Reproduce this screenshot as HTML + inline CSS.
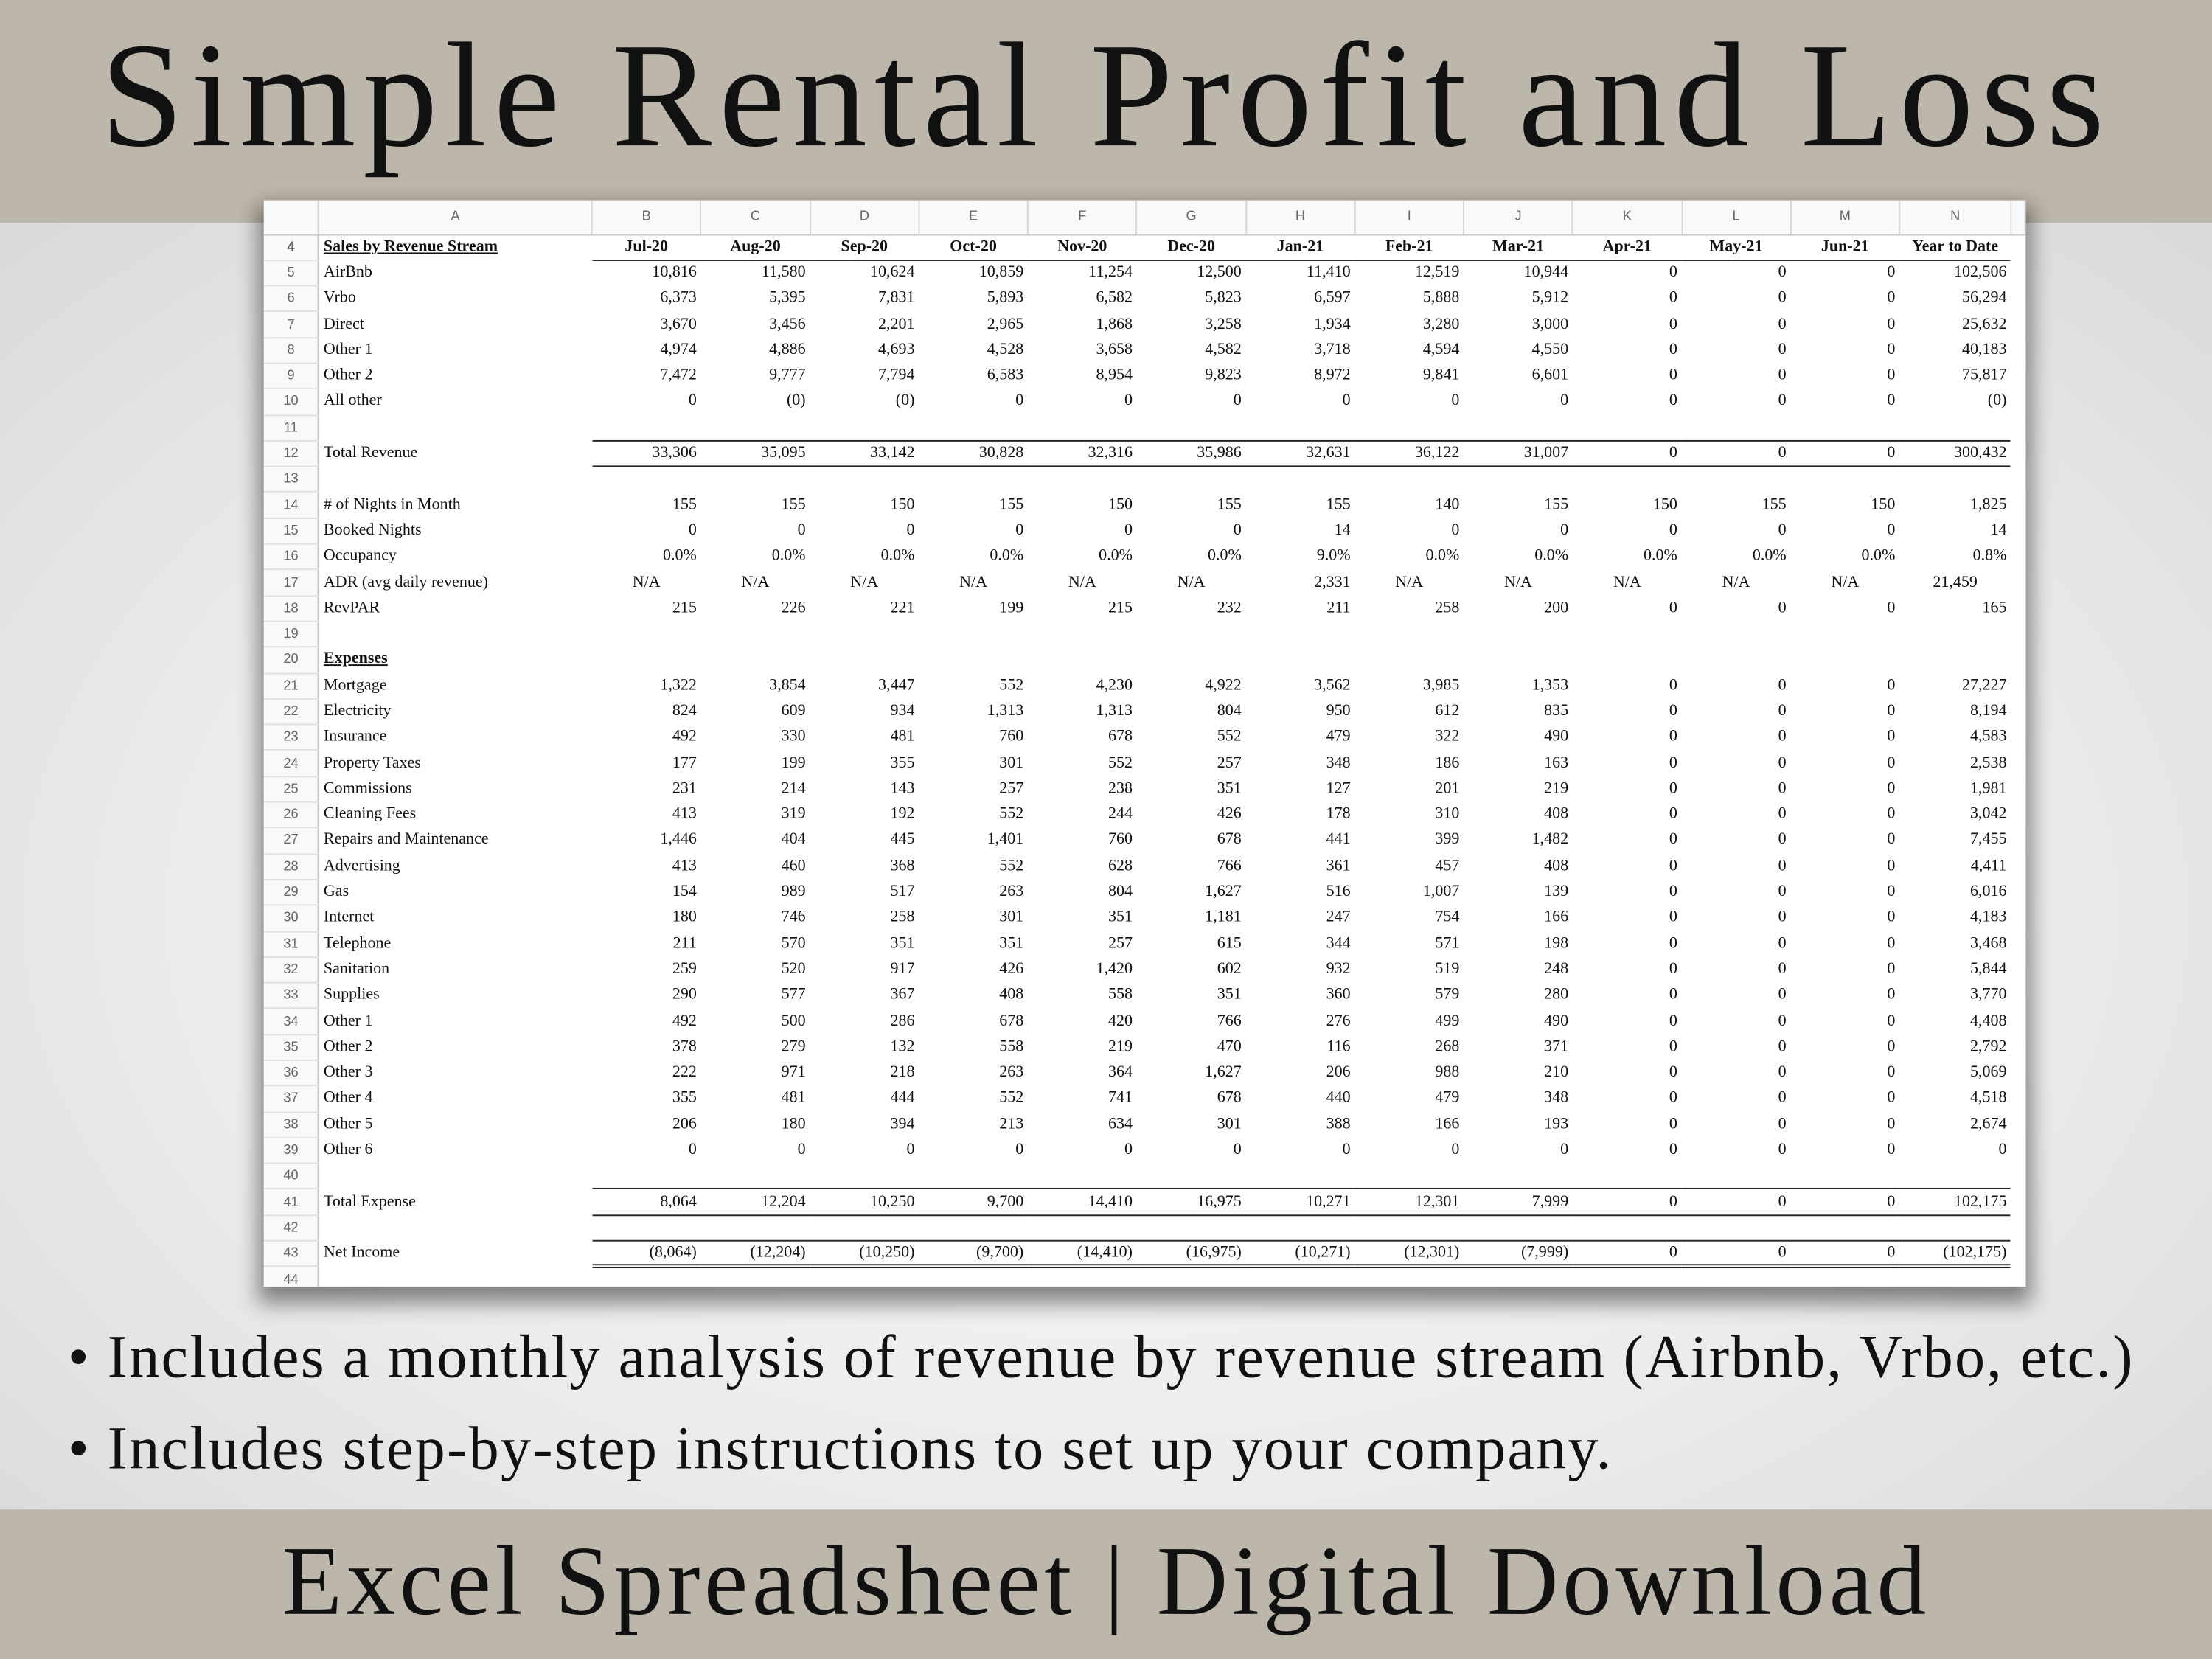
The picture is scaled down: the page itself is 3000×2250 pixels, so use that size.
<!DOCTYPE html>
<html><head><meta charset="utf-8"><style>
html,body{margin:0;padding:0;}
body{width:3000px;height:2250px;overflow:hidden;background:#fff;}
#w{position:absolute;left:0;top:0;width:1568px;height:1176px;transform:scale(1.91327);transform-origin:0 0;
background:radial-gradient(ellipse 70% 60% at 50% 55%,#fafafa 0%,#ebebeb 60%,#d9d9d9 100%);overflow:hidden;font-family:"Liberation Serif",serif;}
.band{position:absolute;left:0;width:1568px;background:#bdb6aa;}
#top{top:0;height:158px;}
#bot{top:1070px;height:106px;}
.title{position:absolute;left:0;width:1568px;text-align:center;color:#111;white-space:nowrap;}
#sheet{position:absolute;left:187px;top:142px;width:1249px;height:770px;background:#fff;box-shadow:0 8px 14px 4px rgba(0,0,0,0.45);overflow:hidden;}
table{border-collapse:collapse;table-layout:fixed;font-size:11.5px;color:#111;}
tr{height:18.3px;}
td{height:18.3px;padding:0 3px;white-space:nowrap;overflow:visible;text-align:right;line-height:13px;box-sizing:border-box;}
td.n{background:#f8f9fa;color:#666;font-family:"Liberation Sans",sans-serif;font-size:9.5px;text-align:center;border-right:1px solid #c8c8c8;border-bottom:1px solid #e0e0e0;}
tr.h{height:24px;}
tr.h td{height:24px;background:#f8f9fa;color:#666;font-family:"Liberation Sans",sans-serif;font-size:9.5px;text-align:center;border-right:1px solid #d6d6d6;border-bottom:1px solid #c8c8c8;}
td.a{text-align:left !important;}
tr.m td{font-weight:bold;text-align:center;}
tr.m td.b{border-bottom:1.5px solid #222;}
tr.tt td.b{border-top:1.5px solid #222;border-bottom:1.5px solid #222;}
tr.ni td.b{border-top:1.5px solid #222;border-bottom:3.5px double #222;}
tr.c td.b{text-align:center;}
.bul{position:absolute;left:48px;font-size:43px;color:#111;white-space:nowrap;letter-spacing:1.15px;}
</style></head><body><div id="w">
<div class="band" id="top"></div>
<div class="title" style="top:8px;font-size:106px;line-height:120px;letter-spacing:5.1px;">Simple Rental Profit and Loss</div>
<div id="sheet">
<table>
<colgroup><col style="width:39px"><col style="width:194px"><col style="width:77.4px"><col style="width:77.4px"><col style="width:77.4px"><col style="width:77.4px"><col style="width:77.4px"><col style="width:77.4px"><col style="width:77.4px"><col style="width:77.4px"><col style="width:77.4px"><col style="width:77.4px"><col style="width:77.4px"><col style="width:77.4px"><col style="width:79px"><col style="width:10px"></colgroup>
<tr class="h"><td></td><td>A</td><td>B</td><td>C</td><td>D</td><td>E</td><td>F</td><td>G</td><td>H</td><td>I</td><td>J</td><td>K</td><td>L</td><td>M</td><td>N</td><td></td></tr>
<tr class="m"><td class="n">4</td><td class="a"><u>Sales by Revenue Stream</u></td><td class="b">Jul-20</td><td class="b">Aug-20</td><td class="b">Sep-20</td><td class="b">Oct-20</td><td class="b">Nov-20</td><td class="b">Dec-20</td><td class="b">Jan-21</td><td class="b">Feb-21</td><td class="b">Mar-21</td><td class="b">Apr-21</td><td class="b">May-21</td><td class="b">Jun-21</td><td class="b">Year to Date</td><td></td></tr>
<tr><td class="n">5</td><td class="a">AirBnb</td><td>10,816</td><td>11,580</td><td>10,624</td><td>10,859</td><td>11,254</td><td>12,500</td><td>11,410</td><td>12,519</td><td>10,944</td><td>0</td><td>0</td><td>0</td><td>102,506</td><td></td></tr>
<tr><td class="n">6</td><td class="a">Vrbo</td><td>6,373</td><td>5,395</td><td>7,831</td><td>5,893</td><td>6,582</td><td>5,823</td><td>6,597</td><td>5,888</td><td>5,912</td><td>0</td><td>0</td><td>0</td><td>56,294</td><td></td></tr>
<tr><td class="n">7</td><td class="a">Direct</td><td>3,670</td><td>3,456</td><td>2,201</td><td>2,965</td><td>1,868</td><td>3,258</td><td>1,934</td><td>3,280</td><td>3,000</td><td>0</td><td>0</td><td>0</td><td>25,632</td><td></td></tr>
<tr><td class="n">8</td><td class="a">Other 1</td><td>4,974</td><td>4,886</td><td>4,693</td><td>4,528</td><td>3,658</td><td>4,582</td><td>3,718</td><td>4,594</td><td>4,550</td><td>0</td><td>0</td><td>0</td><td>40,183</td><td></td></tr>
<tr><td class="n">9</td><td class="a">Other 2</td><td>7,472</td><td>9,777</td><td>7,794</td><td>6,583</td><td>8,954</td><td>9,823</td><td>8,972</td><td>9,841</td><td>6,601</td><td>0</td><td>0</td><td>0</td><td>75,817</td><td></td></tr>
<tr><td class="n">10</td><td class="a">All other</td><td>0</td><td>(0)</td><td>(0)</td><td>0</td><td>0</td><td>0</td><td>0</td><td>0</td><td>0</td><td>0</td><td>0</td><td>0</td><td>(0)</td><td></td></tr>
<tr><td class="n">11</td><td></td><td></td><td></td><td></td><td></td><td></td><td></td><td></td><td></td><td></td><td></td><td></td><td></td><td></td><td></td></tr>
<tr class="tt"><td class="n">12</td><td class="a">Total Revenue</td><td class="b">33,306</td><td class="b">35,095</td><td class="b">33,142</td><td class="b">30,828</td><td class="b">32,316</td><td class="b">35,986</td><td class="b">32,631</td><td class="b">36,122</td><td class="b">31,007</td><td class="b">0</td><td class="b">0</td><td class="b">0</td><td class="b">300,432</td><td></td></tr>
<tr><td class="n">13</td><td></td><td></td><td></td><td></td><td></td><td></td><td></td><td></td><td></td><td></td><td></td><td></td><td></td><td></td><td></td></tr>
<tr><td class="n">14</td><td class="a"># of Nights in Month</td><td>155</td><td>155</td><td>150</td><td>155</td><td>150</td><td>155</td><td>155</td><td>140</td><td>155</td><td>150</td><td>155</td><td>150</td><td>1,825</td><td></td></tr>
<tr><td class="n">15</td><td class="a">Booked Nights</td><td>0</td><td>0</td><td>0</td><td>0</td><td>0</td><td>0</td><td>14</td><td>0</td><td>0</td><td>0</td><td>0</td><td>0</td><td>14</td><td></td></tr>
<tr><td class="n">16</td><td class="a">Occupancy</td><td>0.0%</td><td>0.0%</td><td>0.0%</td><td>0.0%</td><td>0.0%</td><td>0.0%</td><td>9.0%</td><td>0.0%</td><td>0.0%</td><td>0.0%</td><td>0.0%</td><td>0.0%</td><td>0.8%</td><td></td></tr>
<tr class="c"><td class="n">17</td><td class="a">ADR (avg daily revenue)</td><td class="b">N/A</td><td class="b">N/A</td><td class="b">N/A</td><td class="b">N/A</td><td class="b">N/A</td><td class="b">N/A</td><td style="text-align:right">2,331</td><td class="b">N/A</td><td class="b">N/A</td><td class="b">N/A</td><td class="b">N/A</td><td class="b">N/A</td><td class="b">21,459</td><td></td></tr>
<tr><td class="n">18</td><td class="a">RevPAR</td><td>215</td><td>226</td><td>221</td><td>199</td><td>215</td><td>232</td><td>211</td><td>258</td><td>200</td><td>0</td><td>0</td><td>0</td><td>165</td><td></td></tr>
<tr><td class="n">19</td><td></td><td></td><td></td><td></td><td></td><td></td><td></td><td></td><td></td><td></td><td></td><td></td><td></td><td></td><td></td></tr>
<tr><td class="n">20</td><td class="a"><b><u>Expenses</u></b></td><td></td><td></td><td></td><td></td><td></td><td></td><td></td><td></td><td></td><td></td><td></td><td></td><td></td><td></td></tr>
<tr><td class="n">21</td><td class="a">Mortgage</td><td>1,322</td><td>3,854</td><td>3,447</td><td>552</td><td>4,230</td><td>4,922</td><td>3,562</td><td>3,985</td><td>1,353</td><td>0</td><td>0</td><td>0</td><td>27,227</td><td></td></tr>
<tr><td class="n">22</td><td class="a">Electricity</td><td>824</td><td>609</td><td>934</td><td>1,313</td><td>1,313</td><td>804</td><td>950</td><td>612</td><td>835</td><td>0</td><td>0</td><td>0</td><td>8,194</td><td></td></tr>
<tr><td class="n">23</td><td class="a">Insurance</td><td>492</td><td>330</td><td>481</td><td>760</td><td>678</td><td>552</td><td>479</td><td>322</td><td>490</td><td>0</td><td>0</td><td>0</td><td>4,583</td><td></td></tr>
<tr><td class="n">24</td><td class="a">Property Taxes</td><td>177</td><td>199</td><td>355</td><td>301</td><td>552</td><td>257</td><td>348</td><td>186</td><td>163</td><td>0</td><td>0</td><td>0</td><td>2,538</td><td></td></tr>
<tr><td class="n">25</td><td class="a">Commissions</td><td>231</td><td>214</td><td>143</td><td>257</td><td>238</td><td>351</td><td>127</td><td>201</td><td>219</td><td>0</td><td>0</td><td>0</td><td>1,981</td><td></td></tr>
<tr><td class="n">26</td><td class="a">Cleaning Fees</td><td>413</td><td>319</td><td>192</td><td>552</td><td>244</td><td>426</td><td>178</td><td>310</td><td>408</td><td>0</td><td>0</td><td>0</td><td>3,042</td><td></td></tr>
<tr><td class="n">27</td><td class="a">Repairs and Maintenance</td><td>1,446</td><td>404</td><td>445</td><td>1,401</td><td>760</td><td>678</td><td>441</td><td>399</td><td>1,482</td><td>0</td><td>0</td><td>0</td><td>7,455</td><td></td></tr>
<tr><td class="n">28</td><td class="a">Advertising</td><td>413</td><td>460</td><td>368</td><td>552</td><td>628</td><td>766</td><td>361</td><td>457</td><td>408</td><td>0</td><td>0</td><td>0</td><td>4,411</td><td></td></tr>
<tr><td class="n">29</td><td class="a">Gas</td><td>154</td><td>989</td><td>517</td><td>263</td><td>804</td><td>1,627</td><td>516</td><td>1,007</td><td>139</td><td>0</td><td>0</td><td>0</td><td>6,016</td><td></td></tr>
<tr><td class="n">30</td><td class="a">Internet</td><td>180</td><td>746</td><td>258</td><td>301</td><td>351</td><td>1,181</td><td>247</td><td>754</td><td>166</td><td>0</td><td>0</td><td>0</td><td>4,183</td><td></td></tr>
<tr><td class="n">31</td><td class="a">Telephone</td><td>211</td><td>570</td><td>351</td><td>351</td><td>257</td><td>615</td><td>344</td><td>571</td><td>198</td><td>0</td><td>0</td><td>0</td><td>3,468</td><td></td></tr>
<tr><td class="n">32</td><td class="a">Sanitation</td><td>259</td><td>520</td><td>917</td><td>426</td><td>1,420</td><td>602</td><td>932</td><td>519</td><td>248</td><td>0</td><td>0</td><td>0</td><td>5,844</td><td></td></tr>
<tr><td class="n">33</td><td class="a">Supplies</td><td>290</td><td>577</td><td>367</td><td>408</td><td>558</td><td>351</td><td>360</td><td>579</td><td>280</td><td>0</td><td>0</td><td>0</td><td>3,770</td><td></td></tr>
<tr><td class="n">34</td><td class="a">Other 1</td><td>492</td><td>500</td><td>286</td><td>678</td><td>420</td><td>766</td><td>276</td><td>499</td><td>490</td><td>0</td><td>0</td><td>0</td><td>4,408</td><td></td></tr>
<tr><td class="n">35</td><td class="a">Other 2</td><td>378</td><td>279</td><td>132</td><td>558</td><td>219</td><td>470</td><td>116</td><td>268</td><td>371</td><td>0</td><td>0</td><td>0</td><td>2,792</td><td></td></tr>
<tr><td class="n">36</td><td class="a">Other 3</td><td>222</td><td>971</td><td>218</td><td>263</td><td>364</td><td>1,627</td><td>206</td><td>988</td><td>210</td><td>0</td><td>0</td><td>0</td><td>5,069</td><td></td></tr>
<tr><td class="n">37</td><td class="a">Other 4</td><td>355</td><td>481</td><td>444</td><td>552</td><td>741</td><td>678</td><td>440</td><td>479</td><td>348</td><td>0</td><td>0</td><td>0</td><td>4,518</td><td></td></tr>
<tr><td class="n">38</td><td class="a">Other 5</td><td>206</td><td>180</td><td>394</td><td>213</td><td>634</td><td>301</td><td>388</td><td>166</td><td>193</td><td>0</td><td>0</td><td>0</td><td>2,674</td><td></td></tr>
<tr><td class="n">39</td><td class="a">Other 6</td><td>0</td><td>0</td><td>0</td><td>0</td><td>0</td><td>0</td><td>0</td><td>0</td><td>0</td><td>0</td><td>0</td><td>0</td><td>0</td><td></td></tr>
<tr><td class="n">40</td><td></td><td></td><td></td><td></td><td></td><td></td><td></td><td></td><td></td><td></td><td></td><td></td><td></td><td></td><td></td></tr>
<tr class="tt"><td class="n">41</td><td class="a">Total Expense</td><td class="b">8,064</td><td class="b">12,204</td><td class="b">10,250</td><td class="b">9,700</td><td class="b">14,410</td><td class="b">16,975</td><td class="b">10,271</td><td class="b">12,301</td><td class="b">7,999</td><td class="b">0</td><td class="b">0</td><td class="b">0</td><td class="b">102,175</td><td></td></tr>
<tr><td class="n">42</td><td></td><td></td><td></td><td></td><td></td><td></td><td></td><td></td><td></td><td></td><td></td><td></td><td></td><td></td><td></td></tr>
<tr class="ni"><td class="n">43</td><td class="a">Net Income</td><td class="b">(8,064)</td><td class="b">(12,204)</td><td class="b">(10,250)</td><td class="b">(9,700)</td><td class="b">(14,410)</td><td class="b">(16,975)</td><td class="b">(10,271)</td><td class="b">(12,301)</td><td class="b">(7,999)</td><td class="b">0</td><td class="b">0</td><td class="b">0</td><td class="b">(102,175)</td><td></td></tr>
<tr><td class="n">44</td><td></td><td></td><td></td><td></td><td></td><td></td><td></td><td></td><td></td><td></td><td></td><td></td><td></td><td></td><td></td></tr>
</table>
</div>
<div class="bul" style="top:938px;">• Includes a monthly analysis of revenue by revenue stream (Airbnb, Vrbo, etc.)</div>
<div class="bul" style="top:1003px;">• Includes step-by-step instructions to set up your company.</div>
<div class="band" id="bot"></div>
<div class="title" style="top:1080px;font-size:70px;line-height:84px;letter-spacing:2.8px;">Excel Spreadsheet | Digital Download</div>
</div></body></html>
